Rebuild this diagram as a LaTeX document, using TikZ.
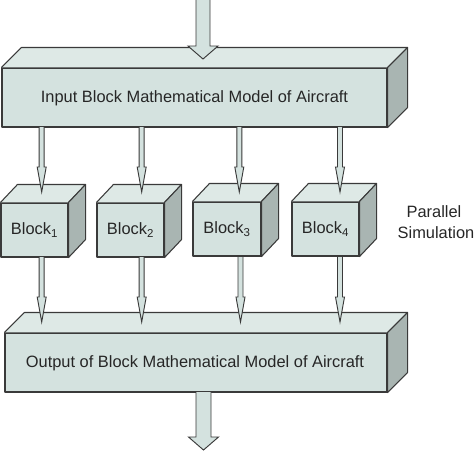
\documentclass[tikz,border=0pt]{standalone}
\usepackage{fontspec}
\setmainfont{Liberation Sans}
\usetikzlibrary{calc,fit}
\definecolor{frontc}{HTML}{D4E2DF}
\definecolor{topc}{HTML}{DEE9E6}
\definecolor{sidec}{HTML}{A9B5B2}
\definecolor{linec}{HTML}{3A3A3A}
\tikzset{
  face/.style={draw=linec, line width=0.8pt, line join=round},
  frontface/.style={face, fill=frontc, inner sep=0pt},
  harrow/.style={draw=linec, line width=0.7pt, fill=frontc, line join=miter},
  lbl/.style={font=\fontsize{12.3}{14}\selectfont, inner sep=0pt, text=black!85}
}
% #1 node name, #2 dx, #3 dy (px)
\newcommand{\solidbox}[3]{%
  \fill[topc] (#1.north west) -- ++(#2,-#3) -- ($(#1.north east)+(#2,-#3)$) -- (#1.north east) -- cycle;
  \draw[face] (#1.north west) -- ++(#2,-#3) -- ($(#1.north east)+(#2,-#3)$) -- (#1.north east);
  \filldraw[face, fill=sidec] (#1.north east) -- ++(#2,-#3) -- ($(#1.south east)+(#2,-#3)$) -- (#1.south east) -- cycle;
}
% #1 start coord, #2 tip coord, #3 shaft half width, #4 head half width, #5 head length
\newcommand{\hollowarrow}[5]{%
  \draw[harrow] ($(#1)+(-#3,0)$) -- ($(#2)+(-#3,-#5)$) -- ($(#2)+(-#4,-#5)$) -- (#2) -- ($(#2)+(#4,-#5)$) -- ($(#2)+(#3,-#5)$) -- ($(#1)+(#3,0)$);
}
\begin{document}
\begin{tikzpicture}[x=0.75pt, y=-0.75pt]
\useasboundingbox (0,0) rectangle (474,451);
% input block
\node[frontface, fit={(2,68) (387,127)}] (in) {};
\solidbox{in}{20}{20}
\node[lbl] at (194.5,98) {Input Block Mathematical Model of Aircraft};
% cubes
\node[frontface, fit={(1,203) (68,257)}] (c1) {};
\node[frontface, fit={(97,203) (164,257)}] (c2) {};
\node[frontface, fit={(193,202) (261,256)}] (c3) {};
\node[frontface, fit={(292,202) (359,256)}] (c4) {};
\foreach \c in {c1,c2,c3,c4}{\solidbox{\c}{17}{18}}
\node[lbl] at (c1.center) {Block\textsubscript{1}};
\node[lbl] at (c2.center) {Block\textsubscript{2}};
\node[lbl] at (c3.center) {Block\textsubscript{3}};
\node[lbl] at (c4.center) {Block\textsubscript{4}};
\node[lbl] (par) at (434,212) {Parallel};
\node[lbl] (sim) at (436,233) {Simulation};
% output block
\node[frontface, fit={(5,333) (387,392)}] (out) {};
\solidbox{out}{20}{20}
\node[lbl] at (195,363) {Output of Block Mathematical Model of Aircraft};
% big arrows
\coordinate (inA) at (203,-3);
\coordinate (inB) at (203,59);
\hollowarrow{inA}{inB}{7}{15}{13}
\coordinate (outA) at (203.5,392);
\coordinate (outB) at (203.5,450);
\hollowarrow{outA}{outB}{7.5}{15}{13}
% small arrows
\foreach \x/\i in {41.7/1,141.7/2,239.3/3,340/4}{
  \coordinate (t\i) at (\x,127);
  \coordinate (u\i) at (\x,192);
  \hollowarrow{t\i}{u\i}{2.5}{4.5}{25}
}
\foreach \x/\i in {41.7/1,141.7/2,240.5/3,340/4}{
  \coordinate (v\i) at (\x,257);
  \coordinate (w\i) at (\x,322);
  \hollowarrow{v\i}{w\i}{2.5}{4.5}{25}
}
\end{tikzpicture}
\end{document}
